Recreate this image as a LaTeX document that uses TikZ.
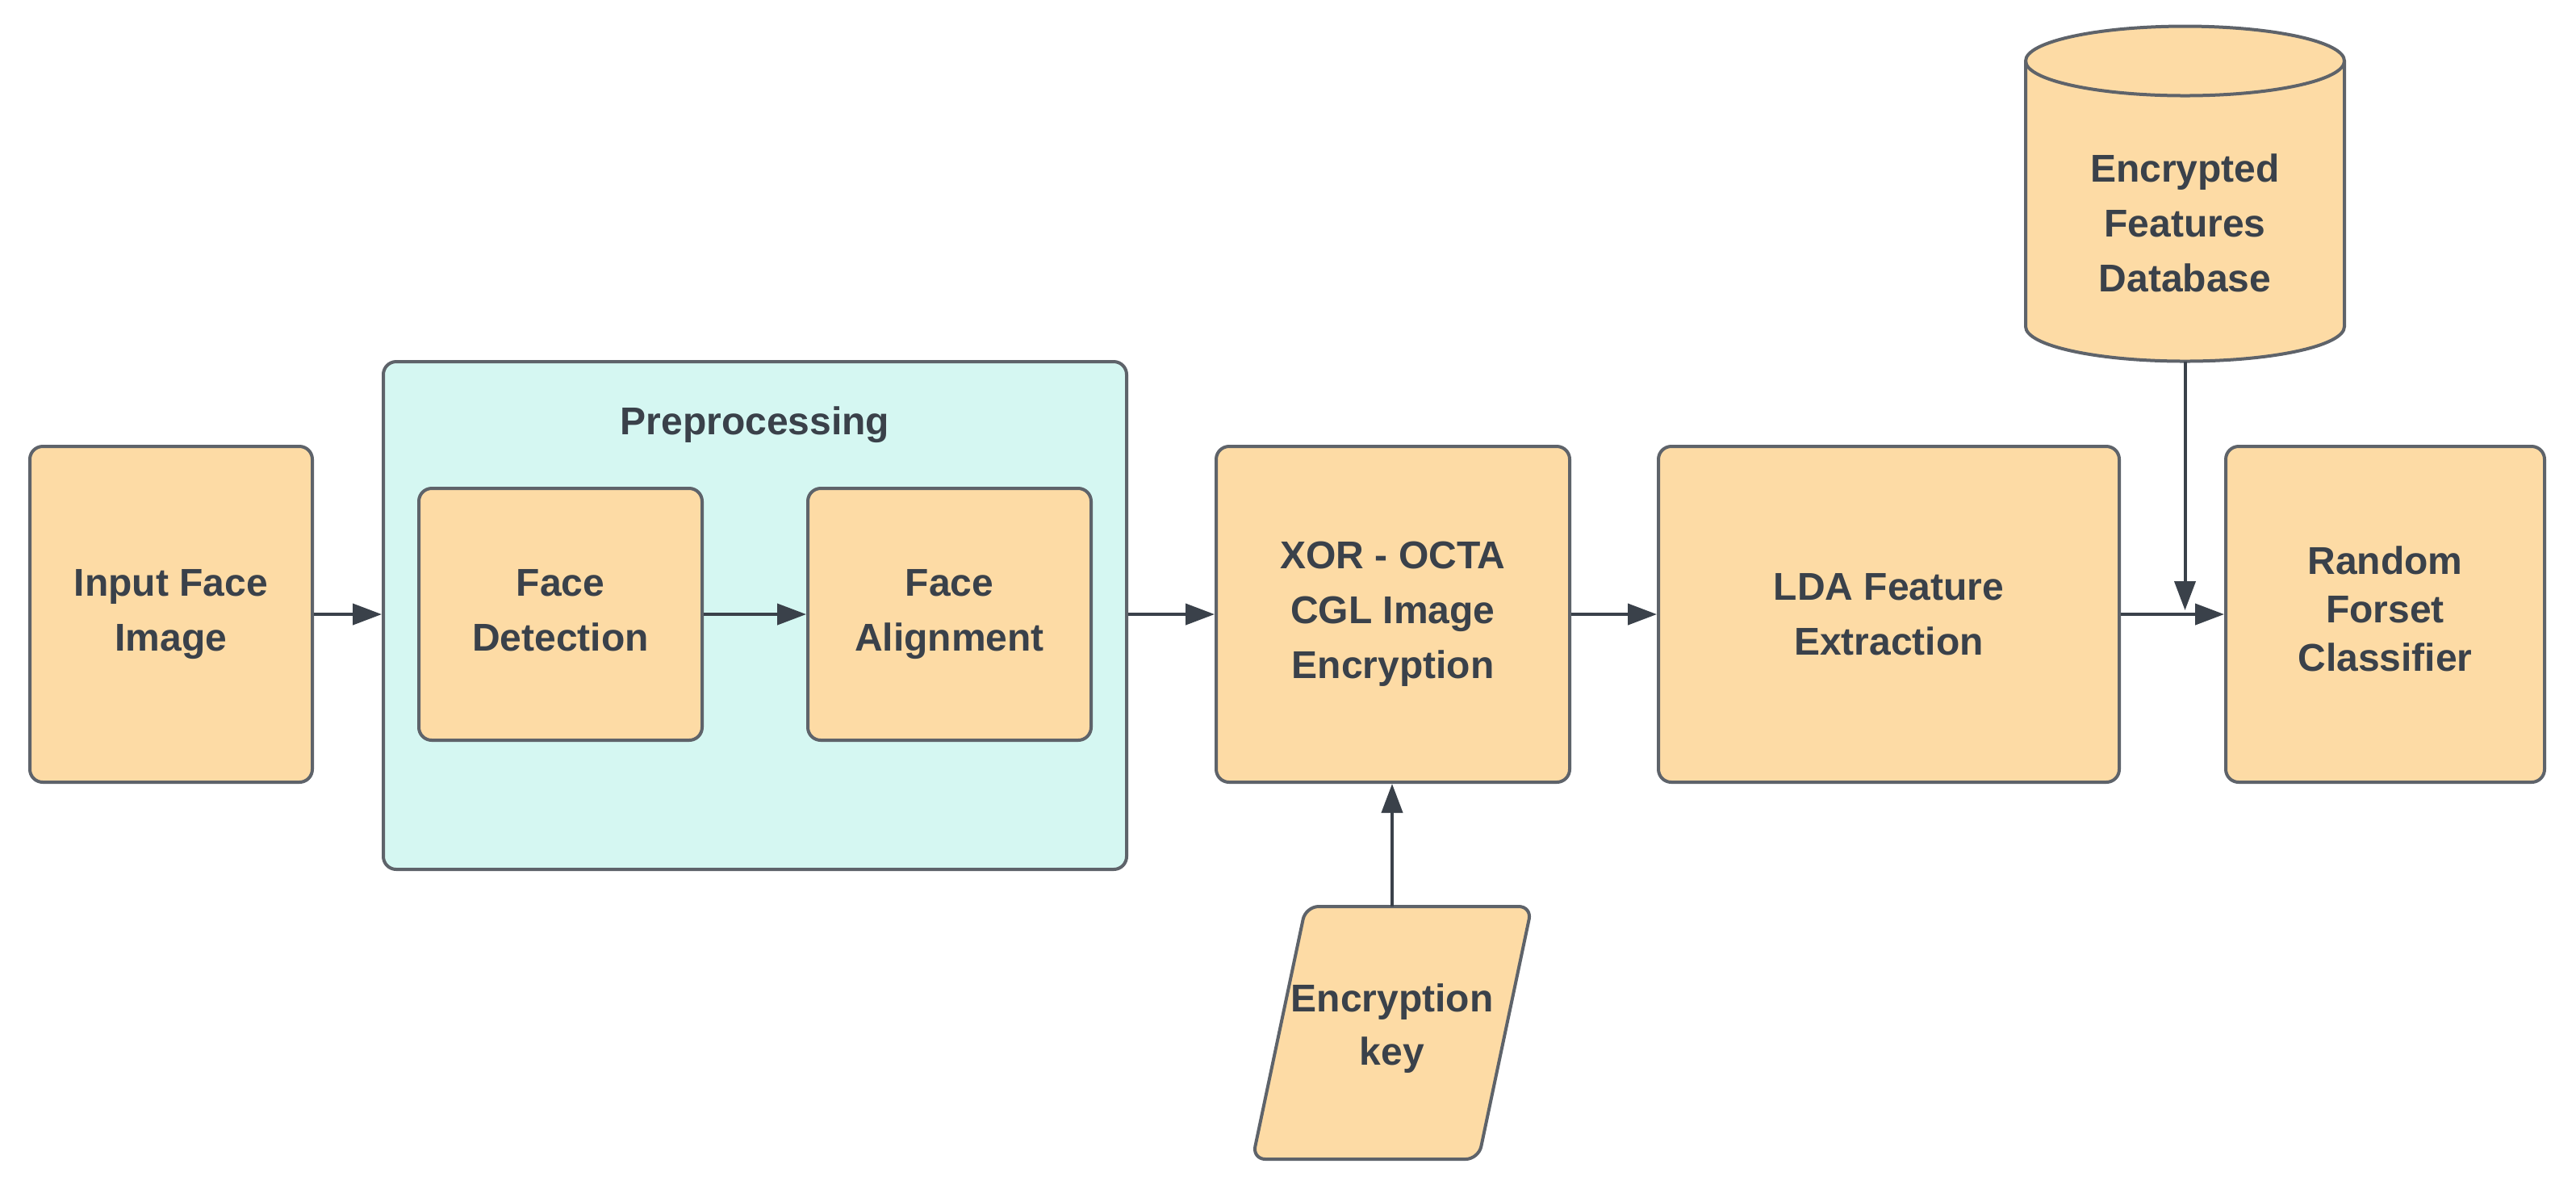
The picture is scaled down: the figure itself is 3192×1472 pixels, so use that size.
\documentclass[tikz,border=0pt]{standalone}
\usepackage{fontspec}
\setmainfont{Liberation Sans}
\usetikzlibrary{arrows.meta,calc}
\definecolor{orfill}{HTML}{FDDBA5}
\definecolor{cyfill}{HTML}{D5F7F2}
\definecolor{bord}{HTML}{5E636A}
\definecolor{txt}{HTML}{3A414A}
\begin{document}
\begin{tikzpicture}[x=0.25pt,y=-0.25pt,
  lbl/.style={align=center, text=txt, font=\fontsize{12}{17}\selectfont\bfseries, inner sep=0pt},
  box/.style={lbl, draw=bord, fill=orfill, line width=1pt, rounded corners=4pt},
  ghost/.style={inner sep=0pt, outer sep=0pt},
  shp/.style={draw=bord, fill=orfill, line width=1pt},
  arr/.style={draw=txt, line width=1pt, -{Triangle[length=9pt,width=6.5pt]}},
  ]
\useasboundingbox[fill=white] (0,0) rectangle (3192,1472);

% main row
\node[box, minimum width=87.5pt, minimum height=104pt] (input) at (212,761) {Input Face\\Image};
\node[box, fill=cyfill, minimum width=230.25pt, minimum height=157.25pt] (prep) at (935.5,762.5) {};
\node[lbl] (preptitle) at (935.5,526) {Preprocessing};
\node[box, minimum width=87.75pt, minimum height=78pt, text depth=2.6pt] (det) at (694.5,761) {Face\\Detection};
\node[box, minimum width=87.75pt, minimum height=78pt, text depth=2.6pt] (ali) at (1176.5,761) {Face\\Alignment};
\node[box, minimum width=109.5pt, minimum height=104pt] (xor) at (1726,761) {XOR - OCTA\\CGL Image\\Encryption};
\node[box, minimum width=142.75pt, minimum height=104pt] (lda) at (2340.5,761) {LDA Feature\\Extraction};
\node[box, minimum width=98.75pt, minimum height=104pt, text depth=3.5pt, font=\fontsize{12}{15}\selectfont\bfseries] (rf) at (2955.5,761) {Random\\Forset\\Classifier};

% database cylinder
\node[ghost, minimum width=98.75pt, minimum height=103.75pt] (db) at (2707.5,240) {};
\path[shp] ([yshift=-10.75pt]db.north west) -- ([yshift=10.75pt]db.south west)
  arc[start angle=180, end angle=360, x radius=49.375pt, y radius=10.75pt]
  -- ([yshift=-10.75pt]db.north east)
  arc[start angle=0, end angle=180, x radius=49.375pt, y radius=10.75pt] -- cycle;
\draw[draw=bord, line width=1pt] ([yshift=-10.75pt]db.north west)
  arc[start angle=180, end angle=360, x radius=49.375pt, y radius=10.75pt];
\node[lbl] (dbtext) at (2707.5,276) {Encrypted\\Features\\Database};

% encryption key parallelogram
\node[ghost, minimum width=70pt, minimum height=78.25pt] (key) at (1725,1279.5) {};
\draw[shp, rounded corners=4pt] ($(key.north west)+(33,0)$) -- ($(key.north east)+(33,0)$)
  -- ($(key.south east)+(-33,0)$) -- ($(key.south west)+(-33,0)$) -- cycle;
\node[lbl, font=\fontsize{12}{16.5}\selectfont\bfseries] (keytext) at (1725,1274) {Encryption\\key};

% connectors
\draw[arr] (input.east) -- (input.east -| prep.west);
\draw[arr] (det.east) -- (ali.west);
\draw[arr] (prep.east |- xor.west) -- (xor.west);
\draw[arr] (xor.east) -- (lda.west);
\draw[arr] (lda.east) -- (rf.west);
\coordinate (dbend) at ($(db.south |- lda.east)+(0,-5)$);
\draw[arr] (db.south) -- (dbend);
\draw[arr] (key.north) -- (key.north |- xor.south);
\end{tikzpicture}
\end{document}
